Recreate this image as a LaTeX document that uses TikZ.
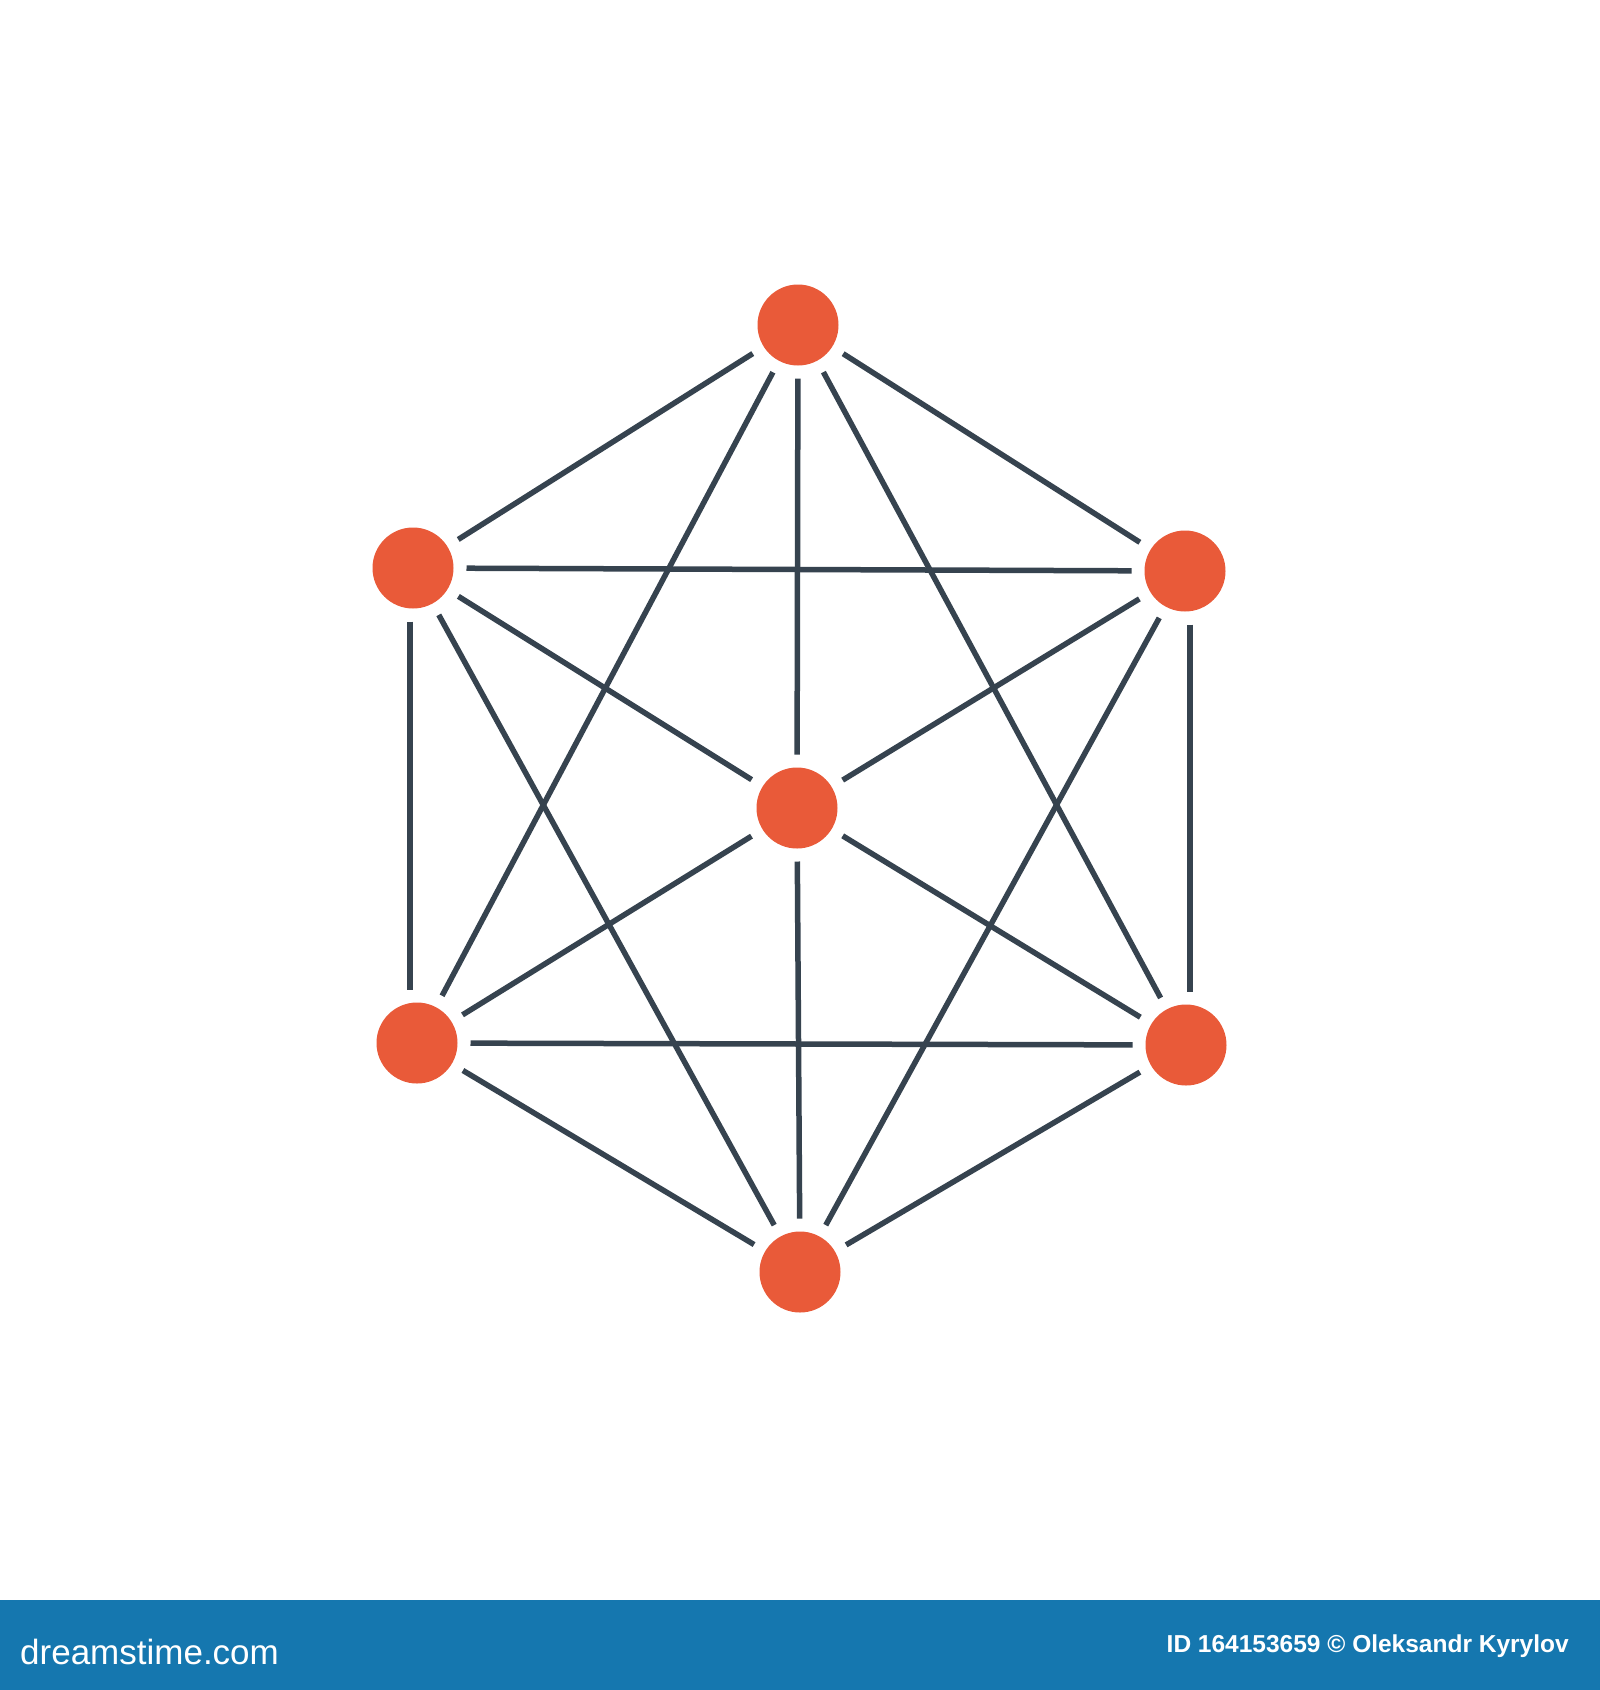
\documentclass[tikz,border=0pt]{standalone}
\usepackage{fontspec}
\setmainfont{Liberation Sans}
\definecolor{nodeorange}{HTML}{E95A39}
\definecolor{edgegray}{HTML}{36434F}
\definecolor{barblue}{HTML}{1577AF}
\begin{document}
\begin{tikzpicture}[x=1pt,y=-1pt,
  atom/.style={circle,fill=nodeorange,minimum size=81pt,inner sep=0pt,outer sep=13pt},
  bond/.style={draw=edgegray,line width=5.5pt}]
\useasboundingbox (0,0) rectangle (1600,1690);
\fill[white] (0,0) rectangle (1600,1690);
\fill[barblue] (0,1600) rectangle (1600,1690);
\node[atom] (t) at (798,325) {};
\node[atom] (ul) at (413,568) {};
\node[atom] (ur) at (1185,571) {};
\node[atom] (c) at (797,808) {};
\node[atom] (ll) at (417,1043) {};
\node[atom] (lr) at (1186,1045) {};
\node[atom] (b) at (800,1272) {};
\draw[bond] (t) -- (ul);
\draw[bond] (t) -- (ur);
\draw[bond] (t) -- (c);
\draw[bond] (t) -- (ll);
\draw[bond] (t) -- (lr);
\draw[bond] (ul) -- (ur);
\draw[bond] (ul) -- (c);
\draw[bond] ([xshift=-3pt]ul.south) -- ([xshift=-7pt]ll.north);
\draw[bond] (ul) -- (b);
\draw[bond] (ur) -- (c);
\draw[bond] ([xshift=5pt]ur.south) -- ([xshift=4pt]lr.north);
\draw[bond] (ur) -- (b);
\draw[bond] (c) -- (ll);
\draw[bond] (c) -- (lr);
\draw[bond] (c) -- (b);
\draw[bond] (ll) -- (lr);
\draw[bond] (ll) -- (b);
\draw[bond] (lr) -- (b);
\node[anchor=west,text=white,font=\fontsize{35}{35}\selectfont,inner sep=0pt] (logo) at (20,1652) {dreamstime.com};
\node[anchor=east,text=white,font=\bfseries\fontsize{24.5}{24.5}\selectfont,inner sep=0pt] (credit) at (1569,1646) {ID 164153659 © Oleksandr Kyrylov};
\end{tikzpicture}
\end{document}
